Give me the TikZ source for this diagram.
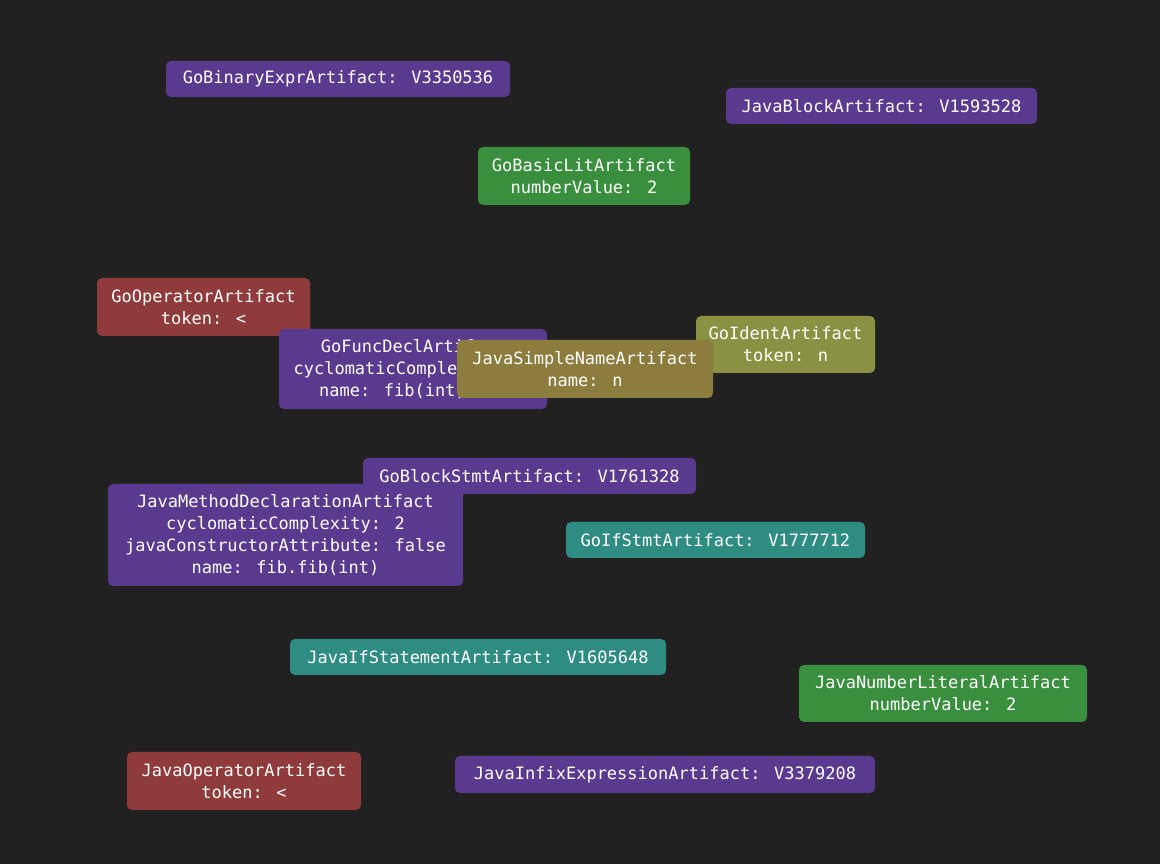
\documentclass[tikz,border=0pt]{standalone}
\usepackage{fontspec}
\setmainfont{DejaVu Sans Mono}
\begin{document}
\begin{tikzpicture}[x=1pt,y=1pt,
  box/.style={rounded corners=5pt,text=white,align=center,inner sep=0pt,font=\fontsize{17}{22}\selectfont},
  pur/.style={box,fill=purpleC},grn/.style={box,fill=greenC},red/.style={box,fill=redC},
  olv/.style={box,fill=oliveC},brn/.style={box,fill=brownC},tea/.style={box,fill=tealC}]
\definecolor{bg}{HTML}{212121}
\definecolor{purpleC}{HTML}{5A3A8F}
\definecolor{greenC}{HTML}{3A8F3F}
\definecolor{redC}{HTML}{8F3B3B}
\definecolor{oliveC}{HTML}{8A9142}
\definecolor{brownC}{HTML}{8C7D3E}
\definecolor{tealC}{HTML}{2E8C82}
\fill[bg] (0,0) rectangle (1160,864);
\useasboundingbox (0,0) rectangle (1160,864);
\newcommand{\bx}[7]{\node[#1,minimum width=#4-#2,minimum height=#5-#3] (#6) at ({(#2+#4)/2},{864-(#3+#5)/2}) {#7};}
\bx{pur}{166}{61}{510}{97}{a}{GoBinaryExprArtifact: V3350536}
\bx{pur}{726}{88}{1037}{124}{b}{JavaBlockArtifact: V1593528}
\bx{grn}{478}{147}{690}{205}{c}{GoBasicLitArtifact\\numberValue: 2}
\bx{red}{97}{278}{310}{336}{d}{GoOperatorArtifact\\token: <}
\bx{olv}{696}{316}{875}{373}{e}{GoIdentArtifact\\token: n}
\bx{pur}{279}{329}{547}{409}{f}{GoFuncDeclArtifact\\cyclomaticComplexity: 2\\name: fib(int) int}
\bx{brn}{457}{340}{713}{398}{g}{JavaSimpleNameArtifact\\name: n}
\bx{pur}{363}{458}{696}{494}{h}{GoBlockStmtArtifact: V1761328}
\bx{pur}{108}{484}{463}{586}{i}{JavaMethodDeclarationArtifact\\cyclomaticComplexity: 2\\javaConstructorAttribute: false\\name: fib.fib(int)}
\bx{tea}{566}{522}{865}{558}{j}{GoIfStmtArtifact: V1777712}
\bx{tea}{290}{639}{666}{675}{k}{JavaIfStatementArtifact: V1605648}
\bx{grn}{799}{665}{1087}{722}{l}{JavaNumberLiteralArtifact\\numberValue: 2}
\bx{red}{127}{752}{361}{810}{m}{JavaOperatorArtifact\\token: <}
\bx{pur}{455}{756}{875}{793}{n}{JavaInfixExpressionArtifact: V3379208}
\end{tikzpicture}
\end{document}
